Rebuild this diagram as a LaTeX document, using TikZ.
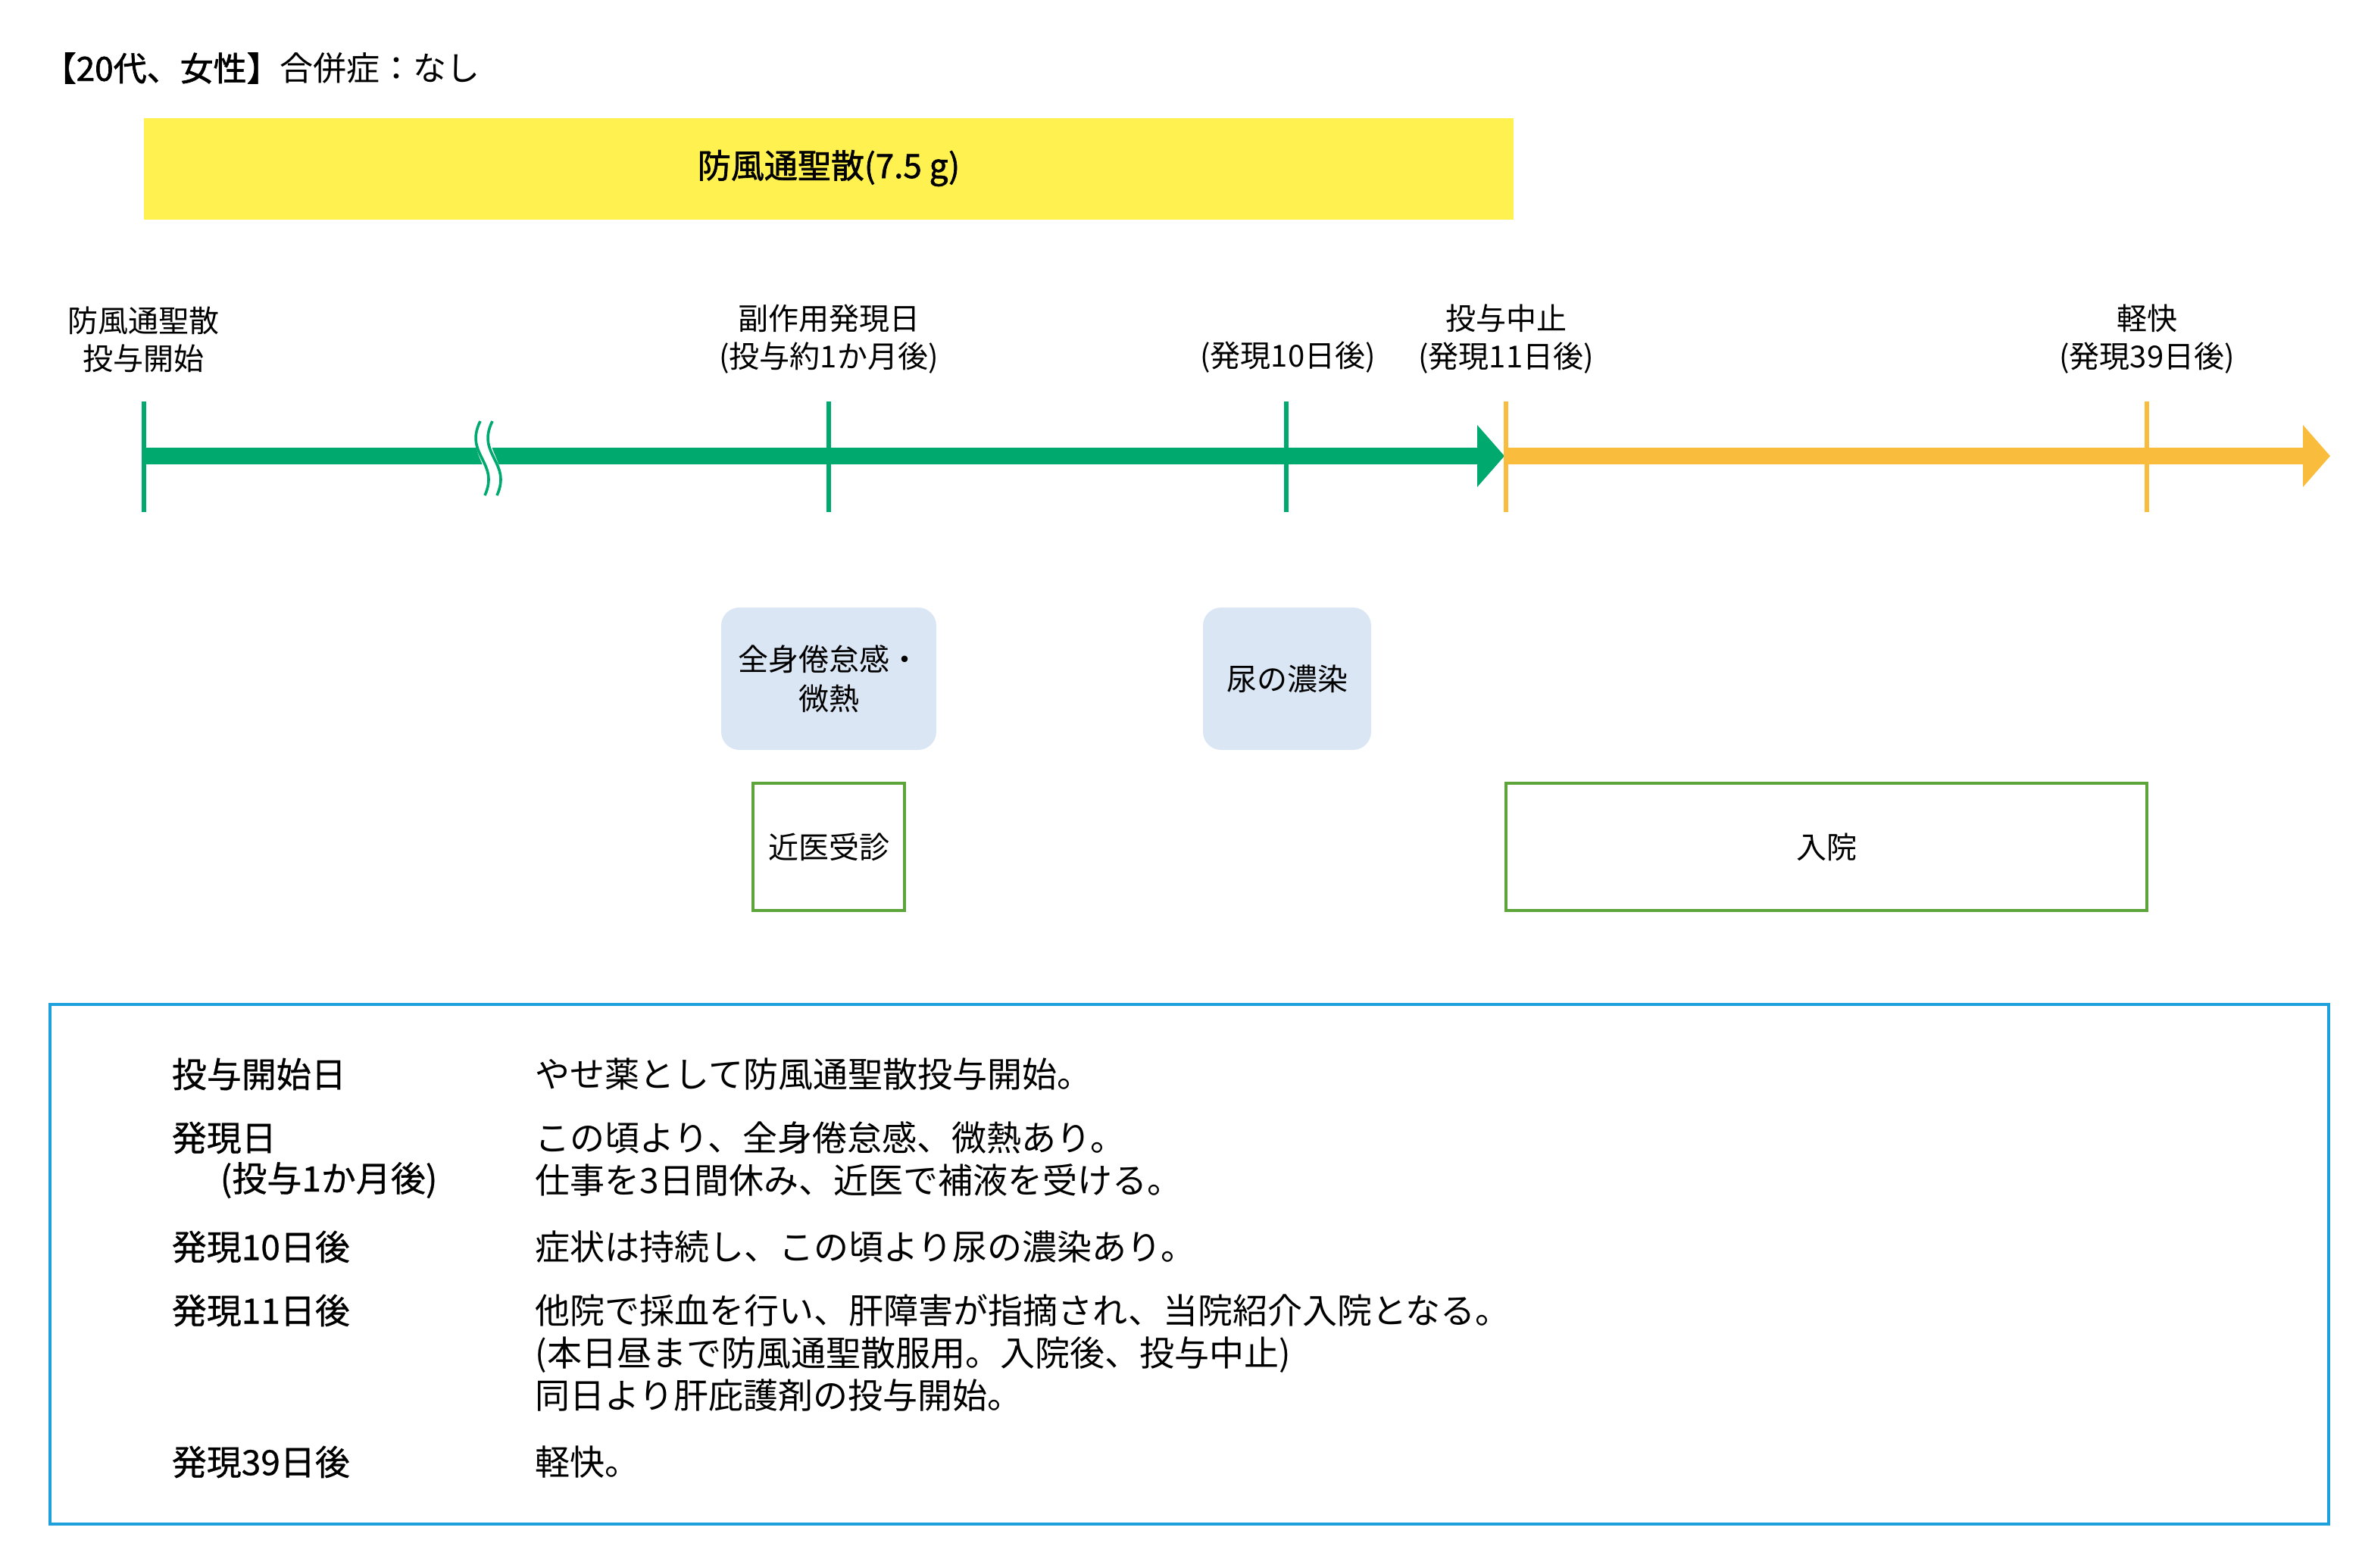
\documentclass[tikz,border=0pt]{standalone}
\usepackage{fontspec}
\setmainfont{Noto Sans CJK JP}
\newfontfamily\jpb{Noto Sans CJK JP}[FakeBold=1.5]
\newfontfamily\jpm{Noto Sans CJK JP}[FakeBold=0.6]
\usetikzlibrary{arrows.meta}
\definecolor{grn}{HTML}{00A96E}
\definecolor{org}{HTML}{F9BC3C}
\definecolor{yel}{HTML}{FFF150}
\definecolor{lblue}{HTML}{DAE6F4}
\definecolor{bgreen}{HTML}{5DA53A}
\definecolor{bblue}{HTML}{1EA0DC}
\begin{document}
\begin{tikzpicture}[x=0.5pt,y=-0.5pt,
  lbl/.style={align=center,font=\fontsize{10}{12.5}\selectfont,inner sep=0},
  rnd/.style={fill=lblue,rounded corners=6pt,align=center,font=\fontsize{10}{13}\selectfont},
  gbox/.style={draw=bgreen,line width=1pt,font=\fontsize{10}{12}\selectfont},
  rowl/.style={anchor=west,font=\jpm\fontsize{11.5}{14}\selectfont,inner sep=0},
  rowt/.style={anchor=west,font=\fontsize{11.5}{14}\selectfont,inner sep=0,align=left},
  arr/.style={line width=5.5pt,-{Triangle[length=9pt,width=20pt]}}]
\useasboundingbox (0,0) rectangle (1559,1034.5);
\node[anchor=west,inner sep=0,font=\fontsize{11}{13}\selectfont] (title) at (28,45) {{\jpb 【20代、女性】}合併症：なし};
\fill[yel] (95,78) rectangle (999,145);
\node[font=\fontsize{11}{13}\selectfont] (drug) at (547,111) {\jpb 防風通聖散(7.5 g)};
% labels
\node[lbl] (l1) at (95,224) {防風通聖散\\投与開始};
\node[lbl] (l2) at (547,224) {副作用発現日\\(投与約1か月後)};
\node[lbl] (l3) at (850,236) {(発現10日後)};
\node[lbl] (l4) at (994,224) {投与中止\\(発現11日後)};
\node[lbl] (l5) at (1417,224) {軽快\\(発現39日後)};
% lines
\coordinate (g0) at (95,301); \coordinate (g1) at (993,301);
\coordinate (o0) at (994,301); \coordinate (o1) at (1538,301);
\draw[org,arr] (o0) -- (o1);
\draw[grn,arr] (g0) -- (g1);
\foreach \x in {95,547,849} \draw[grn,line width=1.4pt] (\x,265) -- (\x,338);
\foreach \x in {994,1417} \draw[org,line width=1.4pt] (\x,265) -- (\x,338);
% break
\draw[white,line width=5pt] (321,278) .. controls (312,300) and (332,305) .. (324,327);
\foreach \d in {-4,4}
  \draw[grn,line width=0.9pt] (321+\d,278) .. controls (310+\d,300) and (334+\d,305) .. (324+\d,327);
% boxes
\node[rnd,minimum width=71pt,minimum height=47pt] (s1) at (547,448) {全身倦怠感・\\微熱};
\node[rnd,minimum width=55.5pt,minimum height=47pt] (s2) at (849.5,448) {尿の濃染};
\node[gbox,minimum width=50pt,minimum height=42pt] (b1) at (547,559) {近医受診};
\node[gbox,minimum width=211.5pt,minimum height=42pt] (b2) at (1205.5,559) {入院};
% table
\draw[bblue,line width=0.8pt] (33,663) rectangle (1537,1006);
\node[rowl] (r1) at (113,709) {投与開始日};
\node[rowt] (t1) at (353,709) {やせ薬として防風通聖散投与開始。};
\node[rowl] (r2) at (113,751) {発現日};
\node[rowl] (r2b) at (145,779) {(投与1か月後)};
\node[rowt] (t2) at (353,765) {この頃より、全身倦怠感、微熱あり。\\仕事を3日間休み、近医で補液を受ける。};
\node[rowl] (r3) at (113,823) {発現10日後};
\node[rowt] (t3) at (353,823) {症状は持続し、この頃より尿の濃染あり。};
\node[rowl] (r4) at (113,865) {発現11日後};
\node[rowt] (t4) at (353,893) {他院で採血を行い、肝障害が指摘され、当院紹介入院となる。\\(本日昼まで防風通聖散服用。入院後、投与中止)\\同日より肝庇護剤の投与開始。};
\node[rowl] (r5) at (113,965) {発現39日後};
\node[rowt] (t5) at (353,965) {軽快。};
\end{tikzpicture}
\end{document}
